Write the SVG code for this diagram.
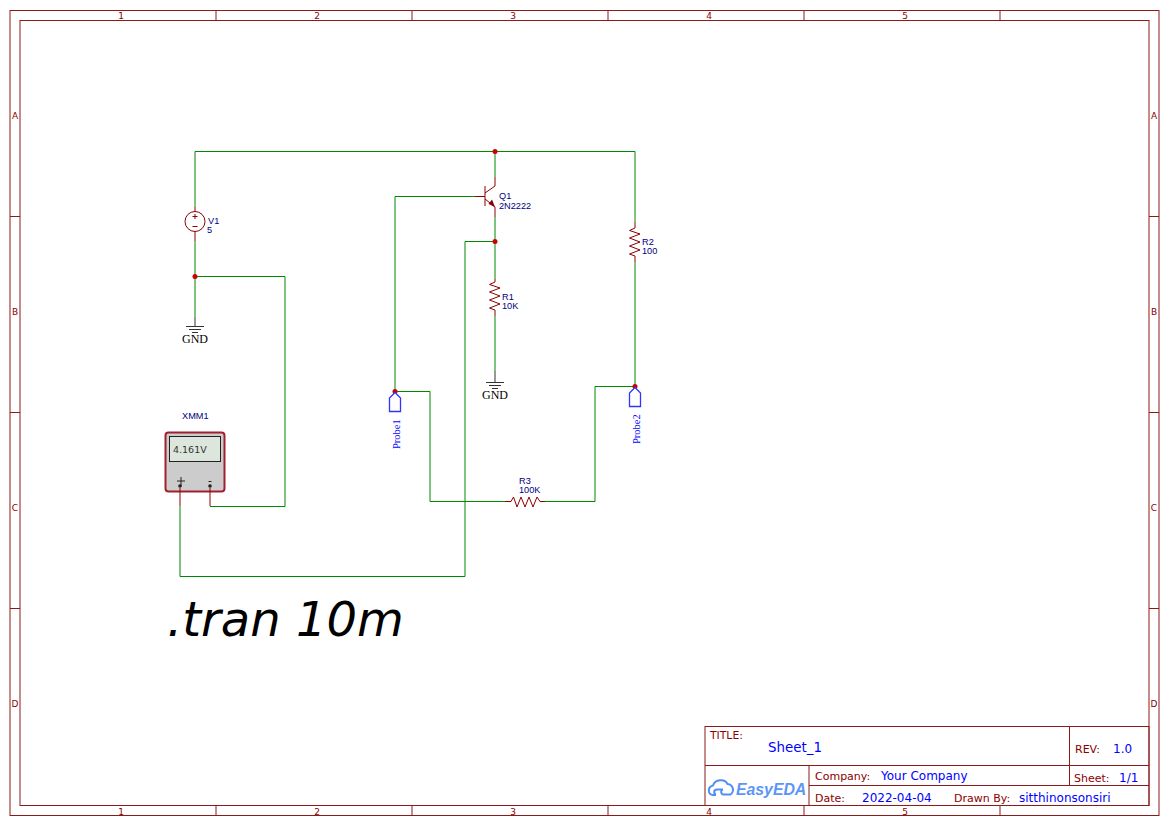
<svg xmlns="http://www.w3.org/2000/svg" width="1169" height="827" viewBox="0 0 1169 827">
<style>
text{font-family:"DejaVu Sans",sans-serif}
.f{fill:none;stroke:#8b1a1a;stroke-width:1}
.w{fill:none;stroke:#008800;stroke-width:1}
.s{fill:none;stroke:#8b0000;stroke-width:1}
.g{fill:none;stroke:#333;stroke-width:1}
.j{fill:#cc0000}
.t{fill:#8b0000;font-size:9px;text-anchor:middle}
.l{fill:#8b0000;font-size:11px}
.v{fill:#0000ff;font-size:12px}
.n{fill:#000080;font-size:9.200px;font-family:"Liberation Sans",sans-serif}
.gnd{fill:#000;font-size:12px;font-family:"Liberation Serif",serif;text-anchor:middle}
.pr{fill:#0000ff;font-size:10.500px;font-family:"Liberation Serif",serif}
.pb{fill:#fff;stroke:#3333ff;stroke-width:1.300}
</style>
<rect width="1169" height="827" fill="#fff"/>
<g id="frame">
<rect class="f" x="10" y="10.500" width="1149" height="805"/>
<rect class="f" x="20" y="20.500" width="1129" height="785"/>
<path class="f" d="M216 10.500V20.500M412 10.500V20.500M608 10.500V20.500M804 10.500V20.500M1000 10.500V20.500M216 805.500V815.500M412 805.500V815.500M608 805.500V815.500M804 805.500V815.500M1000 805.500V815.500M10 216.500H20M10 412.500H20M10 608.500H20M1149 216.500H1159M1149 412.500H1159M1149 608.500H1159"/>
<text class="t" x="121" y="19">1</text><text class="t" x="317" y="19">2</text><text class="t" x="513" y="19">3</text><text class="t" x="709" y="19">4</text><text class="t" x="905" y="19">5</text>
<text class="t" x="121" y="815">1</text><text class="t" x="317" y="815">2</text><text class="t" x="513" y="815">3</text><text class="t" x="709" y="815">4</text><text class="t" x="905" y="815">5</text>
<text class="t" x="15" y="119">A</text><text class="t" x="15" y="315">B</text><text class="t" x="15" y="511">C</text><text class="t" x="15" y="707">D</text>
<text class="t" x="1154" y="119">A</text><text class="t" x="1154" y="315">B</text><text class="t" x="1154" y="511">C</text><text class="t" x="1154" y="707">D</text>
</g>
<g id="title-block">
<rect class="f" x="705" y="726.500" width="444" height="79"/>
<path class="f" d="M705 765.500H1149M809 785.500H1149M809 765.500V805.500M1069.500 726.500V785.500"/>
<text class="l" x="710" y="739" style="font-size:10.800px">TITLE:</text>
<text class="v" x="768" y="752" style="font-size:13.400px">Sheet_1</text>
<text class="l" x="1075" y="753">REV:</text>
<text class="v" x="1113" y="753">1.0</text>
<text class="l" x="815" y="780">Company:</text>
<text class="v" x="881" y="780">Your Company</text>
<text class="l" x="1074" y="782">Sheet:</text>
<text class="v" x="1119" y="782">1/1</text>
<text class="l" x="815" y="802">Date:</text>
<text class="v" x="862" y="802">2022-04-04</text>
<text class="l" x="954" y="802">Drawn By:</text>
<text class="v" x="1019" y="802">sitthinonsonsiri</text>
<g id="logo">
<path d="M716 795H713C708 795 707 787 713 785.500C715 779 725 778.500 727.500 784C733 784.500 735 791 730.500 794.500H724C721 795 720 790 723 789.500H716.500C713.500 790 713.500 794 716 794" fill="none" stroke="#4f8ff7" stroke-width="2"/>
<text x="736" y="795" style="font-family:'Liberation Sans',sans-serif;font-size:15.800px;font-weight:bold;font-style:italic;fill:#5b96f7">EasyEDA</text>
</g>
</g>
<g id="connectors">
<path class="w" d="M195 151.500H635M195 151.500V207M195 241V317M195 276.500H285V506.500H210"/>
<path class="w" d="M495 151.500V177M495 217V279M495 316V371M495 241.500H465V576.500H180V506"/>
<path class="w" d="M475 196.500H395V391.500"/>
<path class="w" d="M395 391.500H430V501.500H505M545 501.500H595V386.500H635"/>
<path class="w" d="M635 151.500V222M635 262V386.500"/>
<circle class="j" cx="495" cy="151.500" r="2.500"/><circle class="j" cx="495" cy="241.500" r="2.500"/><circle class="j" cx="195" cy="276.500" r="2.500"/><circle class="j" cx="395" cy="391.500" r="2.500"/><circle class="j" cx="635" cy="386.500" r="2.500"/>
</g>
<g id="V1">
<circle class="s" cx="195" cy="221.500" r="10"/>
<path class="s" d="M195 207V211.500M195 231.500V241M192.500 216.500H197.500M195 214V219M192.500 226.500H197.500"/>
<text class="n" x="208" y="224">V1</text><text class="n" x="207" y="233">5</text>
</g>
<g id="GND1">
<path class="g" d="M195 317V326.500M186 326.500H204M189 329.500H201M192 332.500H198"/>
<text class="gnd" x="195" y="343">GND</text>
</g>
<g id="Q1">
<path class="s" d="M495 177V186L485 193M475 196.500H485M485 186V206M485 199L495 207V217"/>
<path d="M495 207L488.500 204L492 199.500Z" fill="#8b0000"/>
<text class="n" x="499" y="199">Q1</text><text class="n" x="499" y="209">2N2222</text>
</g>
<g id="R1">
<path class="s" d="M495 279V282L489.500 284.500L500 288L489.500 292L500 296L489.500 300L500 304L489.500 308L495 310V316"/>
<text class="n" x="502" y="299.500">R1</text><text class="n" x="502" y="308.500">10K</text>
</g>
<g id="GND2">
<path class="g" d="M495 371V382.500M486 382.500H504M489 385.500H501M492 388.500H498"/>
<text class="gnd" x="495" y="399">GND</text>
</g>
<g id="R2">
<path class="s" d="M635 222V228L629.500 230.500L640 234L629.500 238L640 242L629.500 246L640 250L629.500 254L635 256V262"/>
<text class="n" x="642" y="244.500">R2</text><text class="n" x="642" y="253.500">100</text>
</g>
<g id="R3">
<path class="s" d="M505 501.500H511L513.500 497L517 507L521 497L525 507L529 497L533 507L537 497L540 501.500H545"/>
<text class="n" x="519" y="484">R3</text><text class="n" x="519" y="493">100K</text>
</g>
<g id="Probe1">
<path class="pb" d="M389.500 411.500V398L395 392.500L400.500 398V411.500Z"/>
<text class="pr" transform="translate(400 449) rotate(-90)">Probe1</text>
</g>
<g id="Probe2">
<path class="pb" d="M629.500 406.500V393L635 387.500L640.500 393V406.500Z"/>
<text class="pr" transform="translate(640 444) rotate(-90)">Probe2</text>
</g>
<g id="XMM1">
<text class="n" x="182" y="419">XMM1</text>
<rect x="165.500" y="432.500" width="59" height="59" rx="3" fill="#cccccc" stroke="#a02030" stroke-width="2"/>
<rect x="169.500" y="436.500" width="51" height="25" fill="#dde6dd" stroke="#222" stroke-width="1"/>
<text x="173" y="453" style="font-size:9.500px;fill:#333">4.161V</text>
<path d="M177 481H185M181 477V486M208.500 481.500H211.500" stroke="#222" fill="none"/>
<circle cx="180" cy="486" r="1.800" fill="#222"/><circle cx="210" cy="486" r="1.800" fill="#222"/>
<path class="s" d="M180 488V506M210 488V506"/>
</g>
<text id="spice" x="167" y="636" style="font-size:48px;font-style:oblique;fill:#000">.tran 10m</text>
</svg>
